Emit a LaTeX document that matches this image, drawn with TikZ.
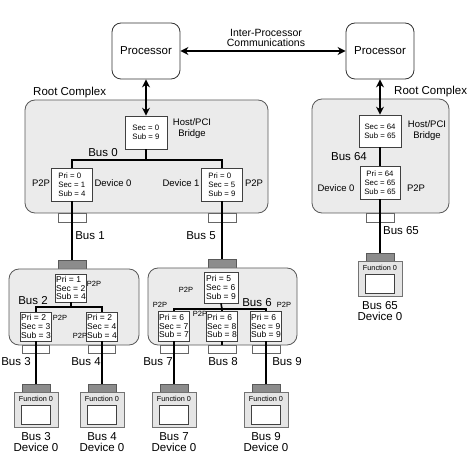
\documentclass[tikz,border=0pt]{standalone}
\usepackage{fontspec}
\setmainfont{Liberation Sans}
\usetikzlibrary{arrows.meta}

\begin{document}
\begin{tikzpicture}[x=1pt,y=-1pt,
	proc/.style={draw=black!80,line width=0.8pt,rounded corners=9pt,minimum width=68pt,minimum height=56pt,inner sep=0pt,font=\fontsize{11.5}{13}\selectfont},
	cplx/.style={draw=black!65,fill=black!8,line width=0.8pt,rounded corners=10pt,inner sep=0pt},
	brg/.style={draw=black!75,fill=white,line width=0.7pt,inner sep=1.5pt,align=left,font=\fontsize{7.8}{8.8}\selectfont},
	sw/.style={brg,font=\fontsize{8.5}{8.6}\selectfont,inner sep=0.5pt},
	port/.style={draw=black!60,fill=white,line width=0.6pt,minimum width=28pt,minimum height=9pt,inner sep=0pt},
	plug/.style={port,fill=black!45,draw=black!65},
	devbox/.style={draw=black!55,fill=black!10,line width=0.7pt,minimum width=44pt,minimum height=35pt,inner sep=0pt},
	devwin/.style={draw=black!75,fill=white,line width=0.7pt,minimum width=29pt,minimum height=19pt,inner sep=0pt},
	big/.style={font=\fontsize{11.5}{11}\selectfont,inner sep=0pt},
	mid/.style={font=\fontsize{9.5}{11}\selectfont,inner sep=0pt},
	tiny/.style={font=\fontsize{7.5}{8}\selectfont,inner sep=0pt},
	bus/.style={line width=1.6pt},
	arr/.style={line width=1.6pt,{Stealth[length=8pt,width=8pt]}-{Stealth[length=8pt,width=8pt]}}
]
	\useasboundingbox (0,0) rectangle (474,465);

	\node[proc] (cpuL) at (146,51) {Processor};
	\node[proc] (cpuR) at (380,51) {Processor};
	\node[mid,align=center,font=\fontsize{10.5}{10.5}\selectfont] (ipc) at (266,38) {Inter-Processor\\Communications};

	\node[cplx,minimum width=243pt,minimum height=113pt] (rcL) at (146.5,156.5) {};
	\node[big,anchor=west] (rcLtxt) at (33,93) {Root Complex};
	\node[cplx,minimum width=137pt,minimum height=114pt] (rcR) at (380.5,156) {};
	\node[big,anchor=west] (rcRtxt) at (394,92) {Root Complex};

	\node[brg,minimum width=42pt,minimum height=33pt] (hbL) at (146,132.5) {Sec = 0\\Sub = 9};
	\node[mid,align=center] (hbLtxt) at (192,129) {Host/PCI\\Bridge};
	\node[big] (b0txt) at (103,153) {Bus 0};
	\coordinate (bus0) at (146,160);
	\node[brg,minimum width=41pt,minimum height=33pt] (p2pA) at (72,184.5) {Pri = 0\\Sec = 1\\Sub = 4};
	\node[brg,minimum width=41pt,minimum height=33pt] (p2pB) at (222,184.5) {Pri = 0\\Sec = 5\\Sub = 9};
	\node[mid] (p2pAtxt) at (41,183) {P2P};
	\node[mid] (devAtxt) at (113,183) {Device 0};
	\node[mid] (devBtxt) at (181,183) {Device 1};
	\node[mid] (p2pBtxt) at (254,183) {P2P};
	\node[port] (pA) at (72,217.5) {};
	\node[port] (pB) at (222,217.5) {};
	\node[big] (b1txt) at (90,236) {Bus 1};
	\node[big] (b5txt) at (201,236) {Bus 5};

	\node[brg,align=center,minimum width=42pt,minimum height=32pt] (hbR) at (380,131) {Sec = 64\\Sub = 65};
	\node[mid,align=center] (hbRtxt) at (427,131) {Host/PCI\\Bridge};
	\node[big] (b64txt) at (349,157) {Bus 64};
	\node[brg,align=center,minimum width=40pt,minimum height=33pt] (p2pR) at (380,182.5) {Pri = 64\\Sec = 65\\Sub = 65};
	\node[mid] (devRtxt) at (336,188) {Device 0};
	\node[mid] (p2pRtxt) at (416,188) {P2P};
	\node[port] (pR) at (380,217.5) {};
	\node[big] (b65txt) at (401,231) {Bus 65};

	\node[plug] (plA) at (72,264.5) {};
	\node[cplx,minimum width=130pt,minimum height=76pt] (swA) at (74,307) {};
	\node[sw,minimum width=29pt,minimum height=28pt] (upA) at (71,288) {Pri = 1\\Sec = 2\\Sub = 4};
	\node[tiny] (upAtxt) at (94,284) {P2P};
	\node[big] (b2txt) at (33,301) {Bus 2};
	\coordinate (bus2) at (71,307);
	\node[sw,minimum width=29pt,minimum height=29pt] (dnA1) at (36,326.5) {Pri = 2\\Sec = 3\\Sub = 3};
	\node[sw,minimum width=29pt,minimum height=29pt] (dnA2) at (102,326.5) {Pri = 2\\Sec = 4\\Sub = 4};
	\node[tiny] (dnA1txt) at (60,318) {P2P};
	\node[tiny] (dnA2txt) at (80,336) {P2P};
	\node[port,minimum width=27pt,minimum height=8pt] (pA1) at (36,349) {};
	\node[port,minimum width=27pt,minimum height=8pt] (pA2) at (102,349) {};
	\node[big] (b3txt) at (16,362) {Bus 3};
	\node[big] (b4txt) at (86,362) {Bus 4};

	\node[plug] (plB) at (222,264) {};
	\node[cplx,minimum width=149pt,minimum height=77pt] (swB) at (222.5,306.5) {};
	\node[sw,minimum width=34pt,minimum height=31pt] (upB) at (221,287.5) {Pri = 5\\Sec = 6\\Sub = 9};
	\node[tiny] (upBtxt) at (186,290) {P2P};
	\node[big] (b6txt) at (257,303) {Bus 6};
	\coordinate (bus6) at (222,309);
	\node[sw,minimum width=30pt,minimum height=30pt] (dnB1) at (174,326) {Pri = 6\\Sec = 7\\Sub = 7};
	\node[sw,minimum width=30pt,minimum height=30pt] (dnB2) at (222,326) {Pri = 6\\Sec = 8\\Sub = 8};
	\node[sw,minimum width=30pt,minimum height=30pt] (dnB3) at (266,326) {Pri = 6\\Sec = 9\\Sub = 9};
	\node[tiny] (dnB1txt) at (160,305) {P2P};
	\node[tiny] (dnB2txt) at (200,314) {P2P};
	\node[tiny] (dnB3txt) at (284,305) {P2P};
	\node[port,minimum width=28pt,minimum height=8pt] (pB1) at (174,349) {};
	\node[port,minimum width=28pt,minimum height=8pt] (pB2) at (222,349) {};
	\node[port,minimum width=28pt,minimum height=8pt] (pB3) at (266,349) {};
	\node[big] (b7txt) at (158,362) {Bus 7};
	\node[big] (b8txt) at (223,362) {Bus 8};
	\node[big] (b9txt) at (287,362) {Bus 9};

	\foreach \n/\x/\y in {3/36/384,4/102/384,7/174/384,9/266/384,65/380/253}{
		\node[plug,minimum height=8pt] (con\n) at (\x,{\y+4}) {};
		\node[devbox,anchor=north] (dev\n) at (con\n.south) {};
		\node[tiny,font=\fontsize{7.3}{8}\selectfont] (fn\n) at ([yshift=-7pt]dev\n.north) {Function 0};
		\node[devwin,anchor=south] (win\n) at ([yshift=3pt]dev\n.south) {};
		\node[big,align=center,anchor=north] (lab\n) at ([yshift=-4pt]dev\n.south) {Bus \n\\Device 0};
	}

	\draw[arr] (cpuL) -- (cpuR);
	\draw[arr] (cpuL.south) -- (hbL.north);
	\draw[arr] (cpuR.south) -- (hbR.north);
	\draw[bus] (hbL.south) -- (bus0);
	\draw[bus] (p2pA.north) |- (bus0) -| (p2pB.north);
	\draw[bus] (p2pA.south) -- (plA.north);
	\draw[bus] (p2pB.south) -- (plB.north);
	\draw[bus] (hbR.south) -- (p2pR.north);
	\draw[bus] (p2pR.south) -- (con65.north);
	\draw[bus] (upA.south) -- (bus2);
	\draw[bus] (dnA1.north) |- (bus2) -| (dnA2.north);
	\draw[bus] (dnA1.south) -- (con3.north);
	\draw[bus] (dnA2.south) -- (con4.north);
	\draw[bus] (upB.south) -- (bus6);
	\draw[bus] (dnB1.north) |- (bus6) -| (dnB3.north);
	\draw[bus] (dnB2.north) -- (bus6);
	\draw[bus] (dnB1.south) -- (con7.north);
	\draw[bus] (dnB2.south) -- (pB2.north);
	\draw[bus] (dnB3.south) -- (con9.north);

\end{tikzpicture}
\end{document}
